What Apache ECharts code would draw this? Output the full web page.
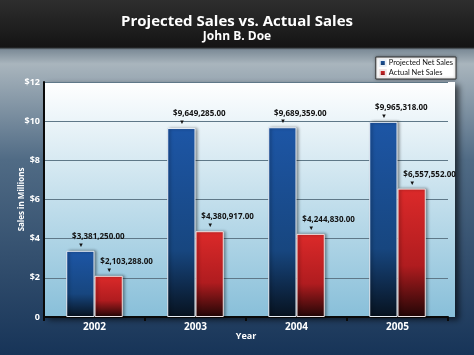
<!DOCTYPE html>
<html><head><meta charset="utf-8">
<script src="https://cdn.jsdelivr.net/npm/echarts@6/dist/echarts.min.js"></script>
<style>html,body{margin:0;padding:0;}#c{width:474px;height:355px;}</style>
</head><body><div id="c"></div>
<script>
const categories = ['2002', '2003', '2004', '2005'];
const projected = [3381250, 9649285, 9689359, 9965318];
const actual = [2103288, 4380917, 4244830, 6557552];
const yTicks = ['0', '$2', '$4', '$6', '$8', '$10', '$12'];
const seriesNames = ['Projected Net Sales', 'Actual Net Sales'];

function money(v) {
  return '$' + v.toLocaleString('en-US', {minimumFractionDigits: 2, maximumFractionDigits: 2});
}
const font = '"Open Sans", "DejaVu Sans", sans-serif';
function makeLabel(arr) {
  return {
    show: true, position: 'top', distance: 2, offset: [18, 0],
    formatter: p => '{v|' + money(arr[p.dataIndex]) + '}\n{a|▼}',
    rich: {
      v: {fontFamily: font, fontWeight: 'bold', fontSize: 8, color: '#111', lineHeight: 10},
      a: {fontSize: 6, color: '#111', lineHeight: 7, align: 'left', padding: [0, 0, 0, 6]}
    }
  };
}
const PL = 44, PR = 26, PT = 82, PB = 38, W = 474, H = 355;
const plotGrad = new echarts.graphic.LinearGradient(0, 0, 0, 1, [
  {offset: 0, color: '#ffffff'},
  {offset: 1, color: '#88bfd9'}
]);
const chart = echarts.init(document.getElementById('c'));
chart.setOption({
  animation: false,
  backgroundColor: new echarts.graphic.LinearGradient(0, 0, 0, 1, [
    {offset: 0, color: '#2e2e2e'},
    {offset: 0.133, color: '#141414'},
    {offset: 0.14, color: '#7c8b97'},
    {offset: 0.18, color: '#a9b5bd'},
    {offset: 0.45, color: '#506b85'},
    {offset: 1, color: '#173458'}
  ]),
  graphic: [{
    type: 'rect', z: -1, silent: true,
    shape: {x: PL, y: PT, width: W - PL - PR + 7, height: H - PT - PB},
    style: {fill: plotGrad, shadowColor: 'rgba(0,0,0,0.6)', shadowBlur: 6, shadowOffsetX: 4, shadowOffsetY: 3}
  }],
  title: {
    text: 'Projected Sales vs. Actual Sales',
    subtext: 'John B. Doe',
    left: 'center', top: 9, itemGap: 2,
    textStyle: {fontFamily: font, fontWeight: 'bold', fontSize: 15, color: '#fff'},
    subtextStyle: {fontFamily: font, fontWeight: 'bold', fontSize: 12, color: '#fff'}
  },
  legend: {
    data: seriesNames, orient: 'vertical', right: 18, top: 57,
    itemWidth: 6, itemHeight: 6, itemGap: 2, icon: 'rect',
    backgroundColor: '#fff', borderColor: '#333', borderWidth: 1, padding: [2, 3],
    textStyle: {fontFamily: 'Lato, sans-serif', fontSize: 7.5, color: '#111', padding: [0, 0, 0, -2]},
    shadowColor: 'rgba(0,0,0,0.4)', shadowBlur: 3
  },
  grid: {
    left: PL, right: PR, top: PT, bottom: PB, show: false,
    outerBoundsMode: 'none', containLabel: false
  },
  xAxis: {
    type: 'category', data: categories,
    name: 'Year', nameLocation: 'middle', nameGap: 15, nameMoveOverlap: false,
    nameTextStyle: {fontFamily: font, fontWeight: 'bold', fontSize: 9, color: '#fff'},
    axisLine: {lineStyle: {color: '#0a0a0a', width: 2}},
    axisTick: {show: true, length: 4, lineStyle: {color: '#0a0a0a', width: 2}},
    axisLabel: {fontFamily: font, fontWeight: 'bold', fontSize: 10, color: '#fff', margin: 5}
  },
  yAxis: {
    type: 'value', min: 0, max: 12, interval: 2,
    name: 'Sales in Millions', nameLocation: 'middle', nameGap: 18, nameMoveOverlap: false,
    nameTextStyle: {fontFamily: font, fontWeight: 'bold', fontSize: 8, color: '#fff'},
    axisLine: {show: true, lineStyle: {color: '#0a0a0a', width: 2}},
    axisTick: {show: false},
    splitLine: {lineStyle: {color: '#5f7888', width: 1}},
    axisLabel: {fontFamily: font, fontWeight: 'bold', fontSize: 9, color: '#fff', margin: 4,
      formatter: v => yTicks[v / 2]}
  },
  series: [
    {
      name: seriesNames[0], type: 'bar', data: projected.map(v => v / 1e6),
      barGap: '0%', barCategoryGap: '44%',
      itemStyle: {
        color: new echarts.graphic.LinearGradient(0, 0, 0, 1, [
          {offset: 0, color: '#1d56a6'}, {offset: 0.65, color: '#17467f'}, {offset: 1, color: '#07121f'}
        ]),
        borderColor: '#e8eef5', borderWidth: 1,
        shadowColor: 'rgba(0,0,0,0.45)', shadowBlur: 3, shadowOffsetX: 2
      },
      label: makeLabel(projected)
    },
    {
      name: seriesNames[1], type: 'bar', data: actual.map(v => v / 1e6),
      itemStyle: {
        color: new echarts.graphic.LinearGradient(0, 0, 0, 1, [
          {offset: 0, color: '#dc2a2a'}, {offset: 0.6, color: '#b01c1f'}, {offset: 1, color: '#220606'}
        ]),
        borderColor: '#f0e4e4', borderWidth: 1,
        shadowColor: 'rgba(0,0,0,0.45)', shadowBlur: 3, shadowOffsetX: 2
      },
      label: makeLabel(actual)
    }
  ],
  color: ['#1d56a6', '#d42a2a']
});
</script></body></html>
